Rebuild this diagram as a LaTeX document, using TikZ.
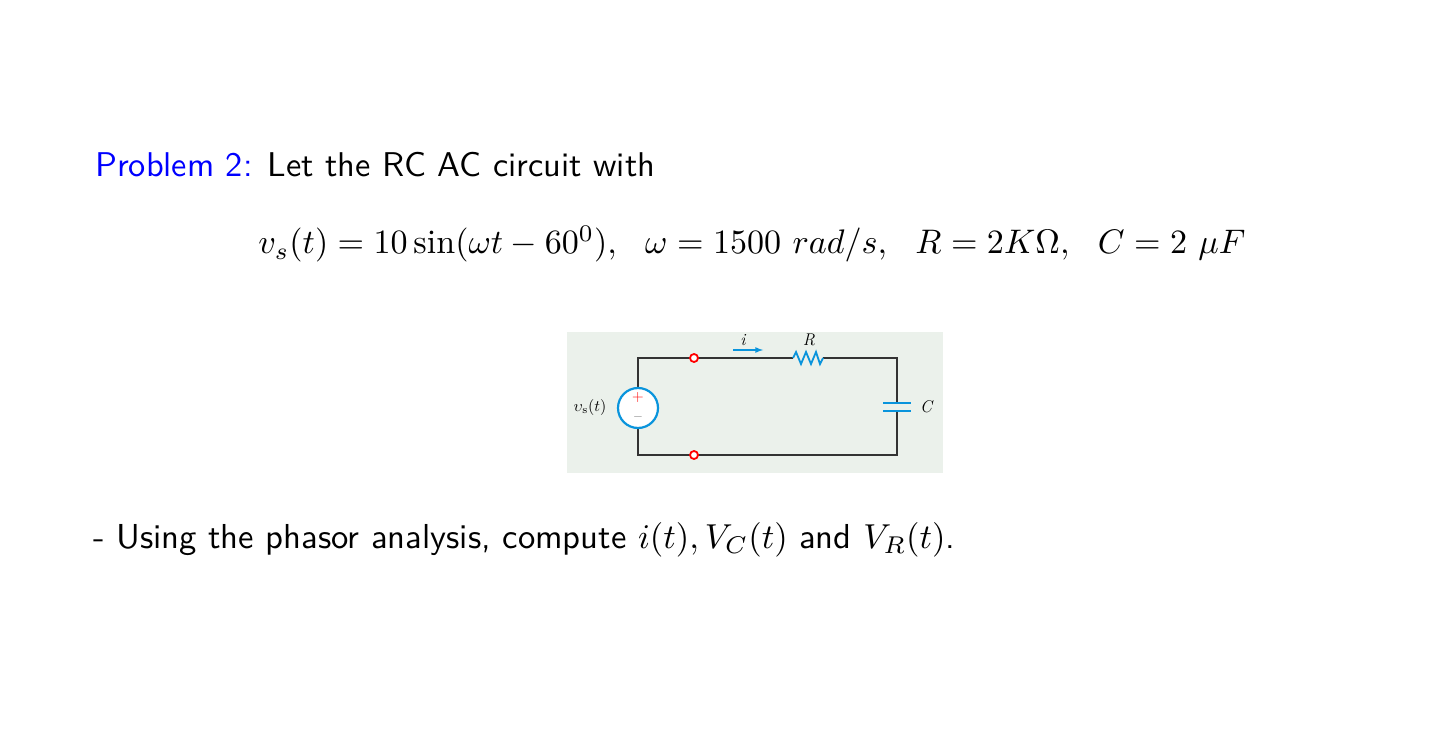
\documentclass[tikz,border=0pt]{standalone}
\usepackage{fontspec}
\usepackage{graphicx}
\begin{document}
\begin{tikzpicture}[x=1pt,y=-1pt,
  wire/.style={line width=1.8pt,draw=black!80},
  cy/.style={draw=cyan!80!blue,line width=2.2pt},
  term/.style={circle,draw=red,line width=1.8pt,fill=white,inner sep=0pt,minimum size=8pt},
  txt/.style={anchor=base west,inner sep=0pt,font=\sffamily}]
\useasboundingbox (0,0) rectangle (1454,735);
\node[txt] (t1) at (95,177) {\resizebox{560pt}{!}{\textcolor{blue}{Problem 2:} Let the RC AC circuit with}};
\node[txt,anchor=base] (eq) at (752,254) {\resizebox{987pt}{!}{$v_s(t)=10\sin(\omega t-60^0),\ \ \omega=1500\ rad/s,\ \ R=2K\Omega,\ \ C=2\ \mu F$}};
\node[txt] (t2) at (93,548) {\resizebox{862pt}{!}{- Using the phasor analysis, compute $i(t), V_C(t)$ and $V_R(t)$.}};
\fill[green!30!black!8] (567,332) rectangle (943,473);
\coordinate (tl) at (638,358); \coordinate (tr) at (897,358);
\coordinate (bl) at (638,455); \coordinate (br) at (897,455);
\draw[wire] (638,388) -- (tl) -- (793,358);
\draw[wire] (823,358) -- (tr) -- (897,403);
\draw[wire] (897,411) -- (br) -- (bl) -- (638,428);
\draw[cy,fill=white] (638,408) circle (20);
\node[red,font=\fontsize{16}{16}\selectfont] (p) at (638,398) {+};
\node[black,font=\fontsize{16}{16}\selectfont] (m) at (638,419) {--};
\draw[cy,line width=1.8pt] (793,358) -- (796,352) -- (801,364) -- (806,352) -- (811,364) -- (816,352) -- (820,364) -- (823,358);
\draw[cy,line width=2pt] (883,403) -- (911,403) (883,411) -- (911,411);
\node[term] (a) at (694,358) {};
\node[term] (b) at (694,455) {};
\draw[cy,line width=1.6pt,-latex] (733,350) -- (763,350);
\node[font=\fontsize{17}{17}\selectfont\itshape] (i) at (743,340) {i};
\node[font=\fontsize{17}{17}\selectfont\itshape] (R) at (809,340) {R};
\node[font=\fontsize{17}{17}\selectfont\itshape] (C) at (926,407) {C};
\node (vs) at (590,407) {\scalebox{1.6}{$\upsilon_{\mathrm{s}}(t)$}};
\end{tikzpicture}
\end{document}
